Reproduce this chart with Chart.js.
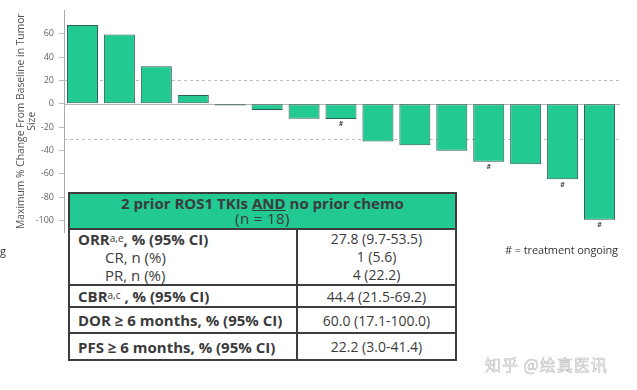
<!DOCTYPE html>
<html>
<head>
<meta charset="utf-8">
<script src="https://cdn.jsdelivr.net/npm/chart.js@4.4.0/dist/chart.umd.min.js"></script>
<style>
    html, body { margin: 0; padding: 0; background: #fff; }
    body { width: 637px; height: 390px; position: relative; overflow: hidden; font-family: 'Open Sans', sans-serif; color: #3b3b3b; }
    #waterfall { position: absolute; left: 0; top: 0; }
    .summary { position: absolute; left: 68px; top: 192px; width: 389px; border-collapse: collapse; table-layout: fixed; background: #fff; }
    .summary td { border: 2px solid #3d3d3d; padding: 0; font-size: 14px; white-space: nowrap; }
    .summary .head { background: #22c993; text-align: center; height: 34px; line-height: 14px; }
    .summary .head b { font-size: 15px; }
    .summary .head span { font-size: 15px; letter-spacing: 0.4px; }
    .summary .lbl { padding-left: 8px; font-weight: bold; font-size: 15px; }
    .summary .val { text-align: center; }
    .summary .sub { font-weight: normal; padding-left: 27px; }
    .summary sup { font-size: 10px; font-weight: normal; vertical-align: 3px; line-height: 0; }
    .note { position: absolute; left: 505px; top: 242px; font-size: 11px; color: #333; letter-spacing: -0.1px; }
    .cut { position: absolute; left: 0; top: 243px; font-size: 11px; color: #333; }
    .mark { position: absolute; left: 485px; top: 352px; font-size: 16px; color: #ececec; -webkit-text-stroke: 0.5px #bdbdbd; font-family: 'Noto Sans CJK SC', sans-serif; letter-spacing: 1px; }
</style>
</head>
<body>
<canvas id="waterfall" width="637" height="390"></canvas>
<table class="summary" id="summary"></table>
<div class="note"># = treatment ongoing</div>
<div class="cut">g</div>
<div class="mark">知乎 @绘真医讯</div>
<script>
// ===== DATA =====
const patients = ['1', '2', '3', '4', '5', '6', '7', '8', '9', '10', '11', '12', '13', '14', '15'];
const changeValues = [67.5, 59.3, 32.2, 7.4, -1.5, -5.4, -12.8, -13.1, -32.5, -35.6, -40.4, -49.8, -51.9, -64.7, -99.5];
const ongoing = [false, false, false, false, false, false, false, true, false, false, false, true, false, true, true];
const yTicks = [60, 40, 20, 0, -20, -40, -60, -80, -100];
const refLines = [20, -30];

const rowLabels = ['ORR<sup>a,e</sup>, % (95% CI)', 'CBR<sup>a,c</sup> , % (95% CI)', 'DOR \u2265 6 months, % (95% CI)', 'PFS \u2265 6 months, % (95% CI)'];
const rowValues = ['27.8 (9.7-53.5)', '44.4 (21.5-69.2)', '60.0 (17.1-100.0)', '22.2 (3.0-41.4)'];
const subLabels = ['CR, n (%)', 'PR, n (%)'];
const subValues = ['1 (5.6)', '4 (22.2)'];

// ===== TABLE =====
function buildTable() {
    const t = document.getElementById('summary');
    let html = '<colgroup><col style="width:228px"><col></colgroup>';
    html += '<tr><td class="head" colspan="2"><b>2 prior ROS1 TKIs <u>AND</u> no prior chemo</b><br><span>(n = 18)</span></td></tr>';
    html += `<tr style="height:56px"><td class="lbl" style="line-height:18px">${rowLabels[0]}<br><span class="sub">${subLabels[0]}</span><br><span class="sub">${subLabels[1]}</span></td>` +
            `<td class="val" style="line-height:18px">${rowValues[0]}<br>${subValues[0]}<br>${subValues[1]}</td></tr>`;
    const heights = [19, 26, 27];
    for (let i = 1; i < rowLabels.length; i++) {
        html += `<tr style="height:${heights[i - 1]}px"><td class="lbl">${rowLabels[i]}</td><td class="val">${rowValues[i]}</td></tr>`;
    }
    t.innerHTML = html;
}
buildTable();

// ===== CHART =====
const refLinePlugin = {
    id: 'refLines',
    beforeDatasetsDraw(chart) {
        const { ctx, chartArea, scales } = chart;
        const y = scales.y;
        ctx.save();
        ctx.lineWidth = 1;
        ctx.strokeStyle = '#b5b5b5';
        const zy = Math.round(y.getPixelForValue(0)) + 0.5;
        ctx.beginPath();
        ctx.moveTo(chartArea.left, zy);
        ctx.lineTo(chartArea.right + 2, zy);
        ctx.stroke();
        ctx.setLineDash([3, 3]);
        ctx.strokeStyle = '#bdbdbd';
        refLines.forEach(v => {
            const py = Math.round(y.getPixelForValue(v)) + 0.5;
            ctx.beginPath();
            ctx.moveTo(chartArea.left, py);
            ctx.lineTo(chartArea.right + 2, py);
            ctx.stroke();
        });
        ctx.restore();
    }
};

const ongoingPlugin = {
    id: 'ongoingMarks',
    afterDatasetsDraw(chart) {
        const { ctx } = chart;
        const meta = chart.getDatasetMeta(0);
        ctx.save();
        ctx.fillStyle = '#444';
        ctx.font = 'bold 7px "Open Sans"';
        ctx.textAlign = 'center';
        ctx.textBaseline = 'top';
        meta.data.forEach((bar, i) => {
            if (ongoing[i]) {
                ctx.fillText('#', bar.x, Math.max(bar.y, bar.base) + 2);
            }
        });
        ctx.restore();
    }
};

new Chart(document.getElementById('waterfall'), {
    type: 'bar',
    data: {
        labels: patients,
        datasets: [{
            data: changeValues,
            backgroundColor: '#22c993',
            borderColor: '#2e5f53',
            borderWidth: 1,
            borderSkipped: false,
            barPercentage: 0.84,
            categoryPercentage: 1
        }]
    },
    options: {
        responsive: false,
        animation: false,
        devicePixelRatio: 1,
        layout: { padding: { left: 0, right: 19, top: 10, bottom: 158 } },
        plugins: { legend: { display: false }, tooltip: { enabled: false } },
        scales: {
            x: { display: false },
            y: {
                min: -110,
                max: 80,
                afterBuildTicks: axis => { axis.ticks = yTicks.map(v => ({ value: v })); },
                afterFit: scale => { scale.width = 64; },
                border: { color: '#aaaaaa' },
                grid: { drawOnChartArea: false, tickLength: 5, color: '#bbbbbb' },
                ticks: { color: '#666', padding: 5, font: { family: "'Open Sans'", size: 9 } },
                title: {
                    display: true,
                    text: ['Maximum % Change From Baseline in Tumor', 'Size'],
                    color: '#555',
                    font: { family: "'Open Sans'", size: 10.3, lineHeight: 1.05 },
                    padding: { top: 16, bottom: 0 }
                }
            }
        }
    },
    plugins: [refLinePlugin, ongoingPlugin]
});
</script>
</body>
</html>
